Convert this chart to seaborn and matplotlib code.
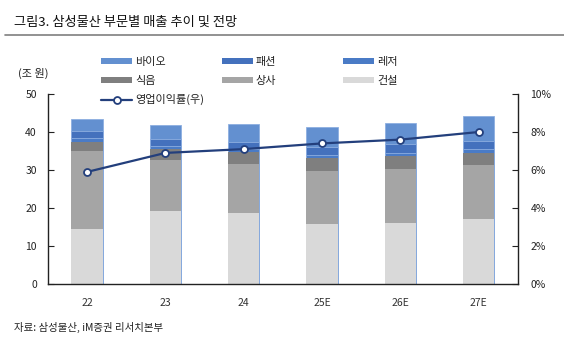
import numpy as np
import matplotlib
matplotlib.use('Agg')
import matplotlib.pyplot as plt
import matplotlib.patches as mpatches
import matplotlib.lines as mlines
import pandas as pd
import seaborn as sns

# 데이터 (조 원, %)
years = ['22', '23', '24', '25E', '26E', '27E']
건설 = [14.6, 19.3, 18.6, 15.9, 16.1, 17.0]
상사 = [20.3, 13.4, 13.1, 13.9, 14.2, 14.3]
식음 = [2.6, 2.8, 3.0, 3.3, 3.3, 3.3]
레저 = [0.8, 0.8, 0.8, 0.9, 0.9, 0.9]
패션 = [1.9, 1.9, 2.0, 2.0, 2.3, 2.2]
바이오 = [3.1, 3.7, 4.6, 5.2, 5.7, 6.6]
영업이익률 = [5.9, 6.9, 7.1, 7.4, 7.6, 8.0]

sns.set_theme(style='white')
plt.rcParams['font.family'] = ['Noto Sans CJK KR', 'DejaVu Sans']

names = ['건설', '상사', '식음', '레저', '패션', '바이오']
series = [건설, 상사, 식음, 레저, 패션, 바이오]
colors = {'건설': '#D9D9D9', '상사': '#A5A5A5', '식음': '#7F7F7F',
          '레저': '#4A7BC6', '패션': '#4471BD', '바이오': '#6390D0'}
edges = {'건설': 'none', '상사': 'none', '식음': 'none',
         '레저': '#8DAEE0', '패션': '#8DAEE0', '바이오': '#8DAEE0'}

df = pd.DataFrame(dict(zip(names, series)), index=years)
cum = df.cumsum(axis=1)

fig = plt.figure(figsize=(5.64, 3.53), dpi=100)
ax = fig.add_axes([0.0851, 0.1955, 0.8333, 0.5382])

# 누적값을 위에서부터 겹쳐 그림
for name in reversed(names):
    sns.barplot(x=years, y=cum[name].values, color=colors[name], width=0.4,
                edgecolor=edges[name], linewidth=0.6, saturation=1, ax=ax)

ax.set_ylim(0, 50)
ax.set_xlim(-0.5, 5.5)
ax.set_yticks(range(0, 51, 10))
ax.set_xticks(np.arange(-0.5, 6, 1), minor=True)
ax.tick_params(axis='x', which='major', length=0, pad=10, labelsize=7.5, colors='#333333')
ax.tick_params(axis='x', which='minor', direction='in', length=4, width=0.8, color='#444444')
ax.tick_params(axis='y', direction='in', length=4, width=0.8, left=True, pad=8,
               labelsize=7.5, colors='#222222')
for s in ['left', 'bottom']:
    ax.spines[s].set_color('#222222')
    ax.spines[s].set_linewidth(1.0)
ax.spines['top'].set_visible(False)
ax.spines['right'].set_visible(False)
ax.set_xlabel('')
ax.set_ylabel('')

ax2 = ax.twinx()
sns.lineplot(x=np.arange(6), y=영업이익률, ax=ax2, color='#233F7C', linewidth=1.6,
             marker='o', markersize=5, markerfacecolor='white',
             markeredgecolor='#233F7C', markeredgewidth=1.3)
ax2.set_ylim(0, 10)
ax2.set_yticks(range(0, 11, 2))
ax2.set_yticklabels([f'{v}%' for v in range(0, 11, 2)])
ax2.tick_params(axis='y', direction='in', length=4, width=0.8, right=True, pad=9,
                labelsize=7.5, colors='#222222')
ax2.spines['right'].set_color('#222222')
ax2.spines['right'].set_linewidth(1.0)
for s in ['top', 'left', 'bottom']:
    ax2.spines[s].set_visible(False)
ax2.set_xlim(-0.5, 5.5)

# 범례 (세 열)
def patch(n):
    return mpatches.Patch(facecolor=colors[n], edgecolor='none', label=n)

line_h = mlines.Line2D([], [], color='#233F7C', linewidth=1.6, marker='o', markersize=5,
                       markerfacecolor='white', markeredgecolor='#233F7C',
                       markeredgewidth=1.3, label='영업이익률(우)')
cols = [[patch('바이오'), patch('식음'), line_h],
        [patch('패션'), patch('상사')],
        [patch('레저'), patch('건설')]]
xs = [101, 222, 343]
for hs, x in zip(cols, xs):
    leg = fig.legend(handles=hs, loc='upper left', bbox_to_anchor=(x / 564, 1 - 57 / 353),
                     frameon=False, fontsize=8, handlelength=2.8, handleheight=0.5,
                     handletextpad=0.25, labelspacing=0.78, borderpad=0, borderaxespad=0)
    for t in leg.get_texts():
        t.set_color('#222222')

fig.text(14 / 564, 1 - 22 / 353, '그림3. 삼성물산 부문별 매출 추이 및 전망', fontsize=9.5,
         va='center', ha='left', color='#111111')
fig.add_artist(mlines.Line2D([5 / 564, 1], [1 - 35 / 353] * 2, color='#7F7F7F', linewidth=1.2))
fig.text(18 / 564, 1 - 73 / 353, '(조 원)', fontsize=8, va='center', ha='left', color='#222222')
fig.text(14 / 564, 1 - 327 / 353, '자료: 삼성물산, iM증권 리서치본부', fontsize=7.5,
         va='center', ha='left', color='#222222')

fig.savefig('out.png', dpi=100)
